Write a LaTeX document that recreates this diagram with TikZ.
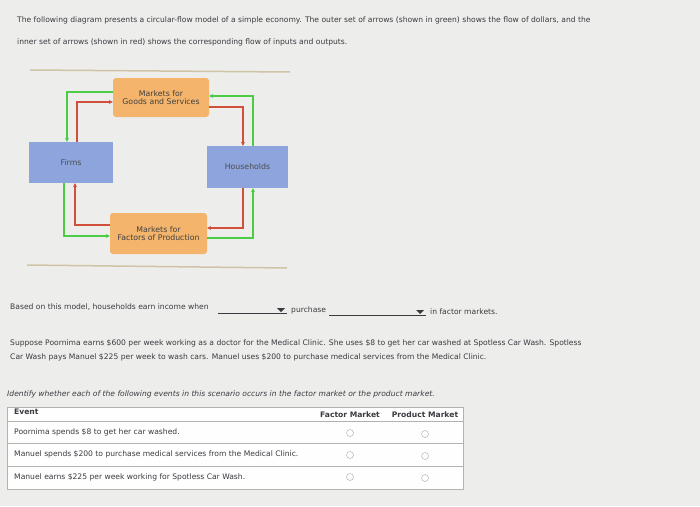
\documentclass[tikz,border=0pt]{standalone}
\usepackage{fontspec}
\setmainfont{DejaVu Sans}
\usetikzlibrary{arrows.meta}
\definecolor{bg}{HTML}{EDEDEB}
\definecolor{txt}{HTML}{3A3A40}
\definecolor{tan}{HTML}{CFC4A8}
\definecolor{orng}{HTML}{F4B46C}
\definecolor{blu}{HTML}{8DA5DC}
\definecolor{grn}{HTML}{4CCB45}
\definecolor{rd}{HTML}{D0503C}
\newcommand\tf{\fontsize{7.6}{9}\selectfont}
\tikzset{
 t/.style={anchor=west,inner sep=0pt,text=txt,font=\tf},
 mkt/.style={draw=none,fill=orng,rounded corners=3pt,text=black!75,font=\fontsize{7.8}{8.5}\selectfont,align=center,inner sep=0pt},
 agent/.style={draw=none,fill=blu,text=black!70,font=\fontsize{7.8}{8.5}\selectfont,inner sep=0pt},
 gflow/.style={draw=grn,line width=1.2pt,-{Stealth[length=4pt,width=4pt]}},
 rflow/.style={draw=rd,line width=1.2pt,-{Stealth[length=4pt,width=4pt]}},
 radio/.style={circle,draw=gray!70,minimum size=7pt,inner sep=0pt},
 blank/.style={draw=txt,line width=0.4pt}
}
\begin{document}
\begin{tikzpicture}[x=1pt,y=-1pt]
\fill[bg] (0,0) rectangle (700,506);
\useasboundingbox (0,0) rectangle (700,506);
\node[t] (l1) at (17,20) {The following diagram presents a circular-flow model of a simple economy. The outer set of arrows (shown in green) shows the flow of dollars, and the};
\node[t] (l2) at (17,42) {inner set of arrows (shown in red) shows the corresponding flow of inputs and outputs.};
\draw[tan,line width=1.5pt] (30,70) -- (290,72);
\draw[tan,line width=1.5pt] (27,265) -- (287,268);
\node[mkt,minimum width=96pt,minimum height=39pt] (gs) at (161,97.5) {Markets for\\Goods and Services};
\node[mkt,minimum width=97pt,minimum height=41pt] (fp) at (158.5,233.5) {Markets for\\Factors of Production};
\node[agent,minimum width=84pt,minimum height=41pt] (f) at (71,162.5) {Firms};
\node[agent,minimum width=81pt,minimum height=42pt] (h) at (247.5,167) {Households};
% top left
\draw[gflow] (gs.west|-0,92) -| (f.north-|67,0);
\draw[rflow] (f.north-|77,0) |- (gs.west|-0,102);
% top right
\draw[rflow] (gs.east|-0,107) -| (h.north-|243,0);
\draw[gflow] (h.north-|253,0) |- (gs.east|-0,96);
% bottom left
\draw[gflow] (f.south-|64,0) |- (fp.west|-0,236);
\draw[rflow] (fp.west|-0,225) -| (f.south-|75,0);
% bottom right
\draw[rflow] (h.south-|243,0) |- (fp.east|-0,228);
\draw[gflow] (fp.east|-0,238) -| (h.south-|253,0);
% fill-in sentence
\node[t] (q1) at (10,307) {Based on this model, households earn income when};
\draw[blank] (218,313) -- (287,313);
\fill[txt] (277,308) -- (285,308) -- (281,312) -- cycle;
\node[t] (q2) at (291,310) {purchase};
\draw[blank] (329,315) -- (426,315);
\fill[txt] (416,310) -- (424,310) -- (420,314) -- cycle;
\node[t] (q3) at (430,312) {in factor markets.};
\node[t] (p1) at (10,343) {Suppose Poornima earns \$600 per week working as a doctor for the Medical Clinic. She uses \$8 to get her car washed at Spotless Car Wash. Spotless};
\node[t] (p2) at (10,357) {Car Wash pays Manuel \$225 per week to wash cars. Manuel uses \$200 to purchase medical services from the Medical Clinic.};
\node[t,font=\tf\itshape] (id) at (7,394) {Identify whether each of the following events in this scenario occurs in the factor market or the product market.};
% table
\fill[white!96!bg] (7,407) rectangle (463,489);
\draw[gray!60,line width=0.6pt] (7,407) rectangle (463,489);
\draw[gray!60,line width=0.6pt] (7,421) -- (463,421) (7,443) -- (463,443) (7,466) -- (463,466);
\node[t,font=\tf\bfseries] (hE) at (14,412) {Event};
\node[t,anchor=center,font=\tf\bfseries] (hF) at (350,415) {Factor Market};
\node[t,anchor=center,font=\tf\bfseries] (hP) at (425,415) {Product Market};
\node[t] (r1) at (14,432) {Poornima spends \$8 to get her car washed.};
\node[t] (r2) at (14,454) {Manuel spends \$200 to purchase medical services from the Medical Clinic.};
\node[t] (r3) at (14,477) {Manuel earns \$225 per week working for Spotless Car Wash.};
\node[radio] (c11) at (350,433) {};
\node[radio] (c12) at (425,434) {};
\node[radio] (c21) at (350,455) {};
\node[radio] (c22) at (425,456) {};
\node[radio] (c31) at (350,477) {};
\node[radio] (c32) at (425,478) {};
\end{tikzpicture}
\end{document}
